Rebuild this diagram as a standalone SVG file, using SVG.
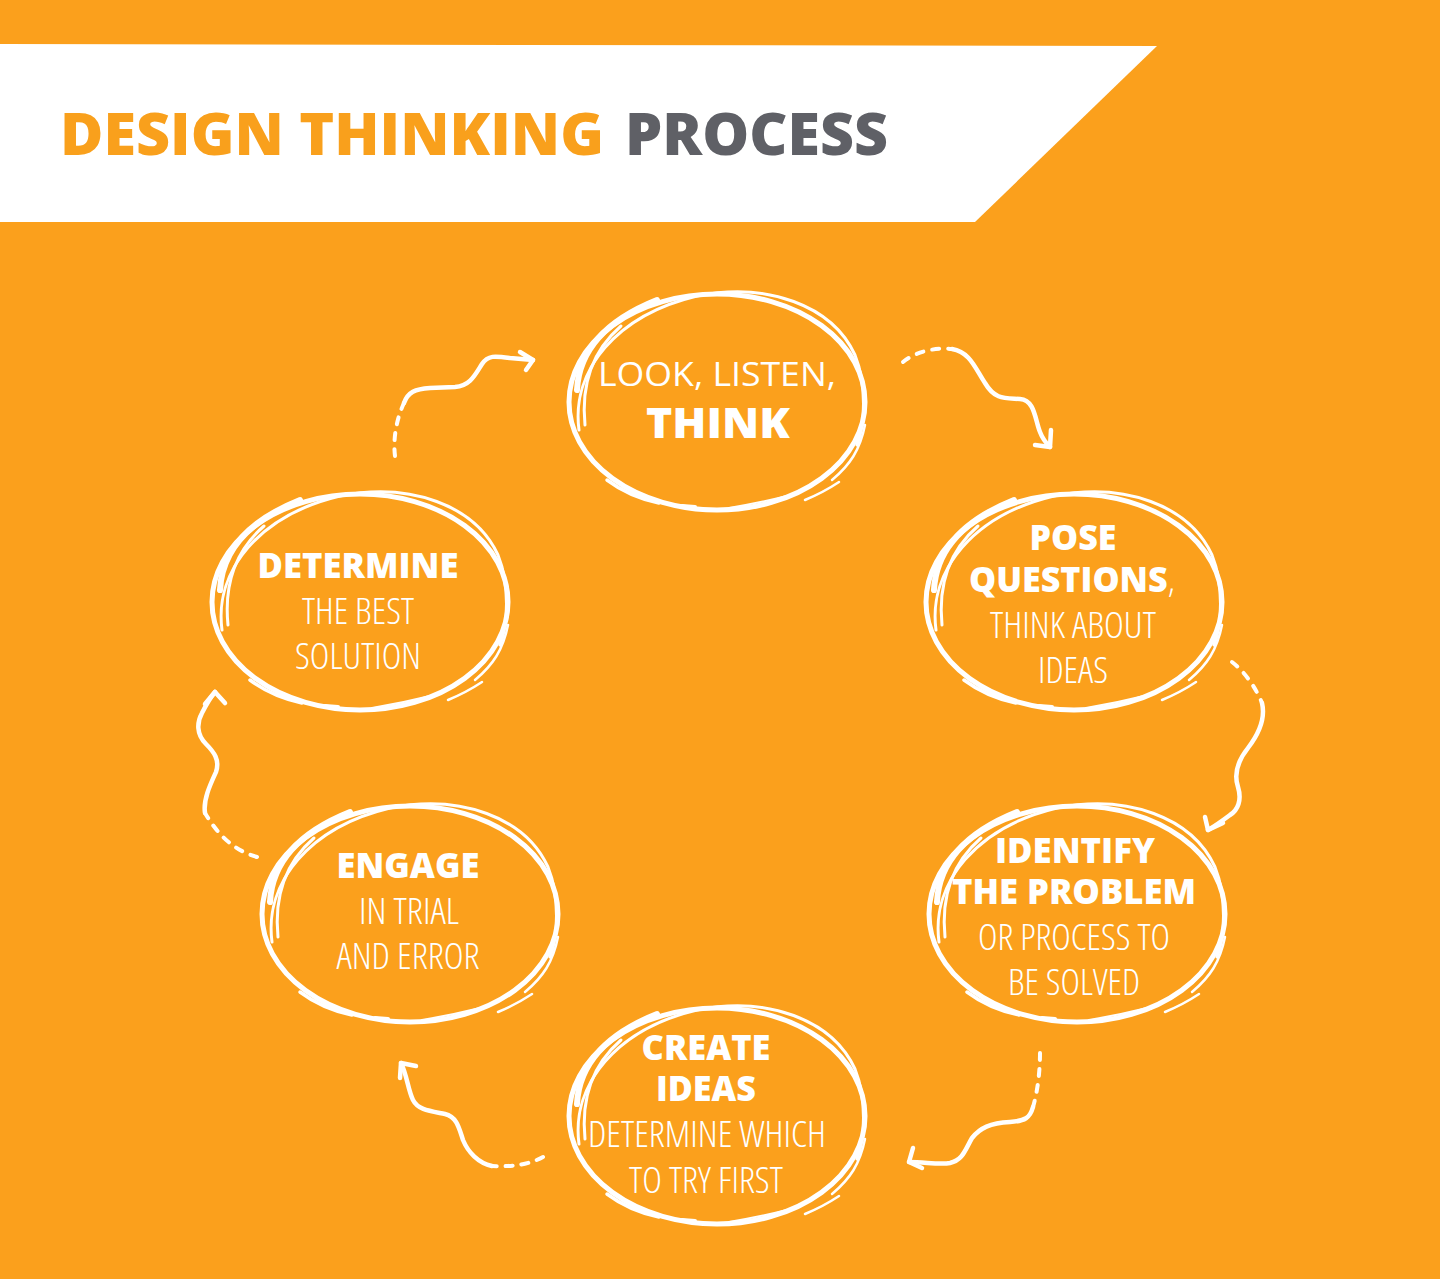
<svg xmlns="http://www.w3.org/2000/svg" xmlns:xlink="http://www.w3.org/1999/xlink" width="1440" height="1279" viewBox="0 0 1440 1279">
<style>
.bg{fill:#FBA01C}
.band{fill:#FFFFFF}
.t1{font-family:"Open Sans","DejaVu Sans",sans-serif;font-weight:800;font-size:59px;fill:#F9A01C}
.t2{font-family:"Open Sans","DejaVu Sans",sans-serif;font-weight:800;font-size:59px;fill:#5F6066}
.sk{fill:none;stroke:#FFFFFF;stroke-linecap:round;stroke-linejoin:round}
.b{font-family:"Open Sans","DejaVu Sans",sans-serif;font-weight:800;font-size:35px;fill:#FFFFFF;text-anchor:middle}
.bk{font-family:"Open Sans","DejaVu Sans",sans-serif;font-weight:800;font-size:42px;fill:#FFFFFF;text-anchor:middle}
.m{font-family:"Open Sans","DejaVu Sans",sans-serif;font-weight:500;font-size:32px;fill:#FFFFFF;text-anchor:middle}
.l{font-family:"Open Sans","DejaVu Sans",sans-serif;font-weight:300;font-stretch:condensed;font-size:37px;fill:#FFFFFF;text-anchor:middle}
.c{fill:none;stroke:#FFFFFF;stroke-width:4.5;stroke-linecap:round;stroke-linejoin:round}
.d{fill:none;stroke:#FFFFFF;stroke-width:4;stroke-linecap:round;stroke-dasharray:7 9}
</style>
<defs>
<g id="sketch">
<ellipse class="sk" cx="0" cy="2" rx="148" ry="108" stroke-width="5"/>
<path class="sk" stroke-width="3" d="M-138,30 C-146,-30 -100,-85 -20,-104 C50,-118 115,-95 138,-45 C150,-15 148,25 140,45"/>
<path class="sk" stroke-width="6" d="M-140,-10 C-138,-50 -110,-80 -60,-100"/>
<path class="sk" stroke-width="3" d="M-132,25 C-136,-15 -126,-48 -96,-74"/>
<path class="sk" stroke-width="2.5" d="M148,25 C143,50 133,65 115,80"/>
<path class="sk" stroke-width="2.5" d="M122,82 C110,90 100,95 88,100"/>
<path class="sk" stroke-width="2" d="M70,96 C50,101 30,105 12,108"/>
<path class="sk" stroke-width="3.5" d="M-110,80 C-90,95 -72,100 -58,103"/>
<path class="sk" stroke-width="4" d="M-35,106 L-22,107"/>
</g>
</defs>
<rect class="bg" x="0" y="0" width="1440" height="1279"/>
<polygon class="band" points="0,44 1157,46 975,222 0,222"/>
<text class="t1" x="60" y="155" textLength="544" lengthAdjust="spacingAndGlyphs">DESIGN THINKING</text>
<text class="t2" x="625" y="155" textLength="263" lengthAdjust="spacingAndGlyphs">PROCESS</text>

<g id="connectors">
<path class="d" d="M395,456 C393,440 396,420 404,403"/>
<path class="c" d="M404,403 C408,392 415,389 430,388 L455,387 C470,386 475,375 482,364 C488,355 495,356 510,358 L533,360"/>
<path class="c" d="M520,352 L533,360 L526,370"/>

<path class="d" d="M903,362 C915,352 935,347 952,349"/>
<path class="c" d="M952,349 C970,352 975,368 985,383 C995,400 1005,398 1020,399 C1035,400 1035,420 1040,432 C1043,440 1047,444 1050,447"/>
<path class="c" d="M1035,445 L1050,447 L1051,430"/>

<path class="d" d="M1232,662 C1245,672 1256,688 1262,703"/>
<path class="c" d="M1262,703 C1266,720 1258,735 1248,748 C1236,763 1234,775 1238,787 C1242,800 1238,810 1230,815 C1222,821 1215,826 1208,830"/>
<path class="c" d="M1205,817 L1208,830 L1223,823"/>

<path class="d" d="M1040,1053 C1040,1070 1038,1090 1033,1107"/>
<path class="c" d="M1033,1107 C1030,1118 1025,1121 1010,1122 C990,1123 980,1128 972,1138 C965,1150 963,1160 950,1163 C940,1165 925,1162 909,1162"/>
<path class="c" d="M913,1148 L909,1162 L922,1168"/>

<path class="d" d="M543,1157 C530,1164 515,1167 492,1166"/>
<path class="c" d="M492,1166 C478,1163 468,1152 463,1140 C459,1128 457,1117 445,1114 C430,1111 418,1110 413,1100 C408,1090 407,1075 401,1063"/>
<path class="c" d="M400,1078 L401,1063 L416,1066"/>

<path class="d" d="M257,857 C240,852 222,842 205,813"/>
<path class="c" d="M205,813 C203,800 210,785 216,772 C220,760 214,752 206,744 C196,734 197,722 202,713 C206,705 210,698 215,692"/>
<path class="c" d="M205,704 L215,692 L225,703"/>
</g>

<g id="node-look">
<use xlink:href="#sketch" href="#sketch" transform="translate(717,400)"/>
<text class="m" x="717" y="386" textLength="238" lengthAdjust="spacingAndGlyphs">LOOK, LISTEN,</text>
<text class="bk" x="718" y="438" textLength="144" lengthAdjust="spacingAndGlyphs">THINK</text>
</g>

<g id="node-pose">
<use xlink:href="#sketch" href="#sketch" transform="translate(1074,600)"/>
<text class="b" x="1073" y="550" textLength="87" lengthAdjust="spacingAndGlyphs">POSE</text>
<text class="b" x="1072" y="592" textLength="206" lengthAdjust="spacingAndGlyphs">QUESTIONS<tspan font-weight="300">,</tspan></text>
<text class="l" x="1073" y="638" textLength="166" lengthAdjust="spacingAndGlyphs">THINK ABOUT</text>
<text class="l" x="1073" y="683" textLength="70" lengthAdjust="spacingAndGlyphs">IDEAS</text>
</g>

<g id="node-identify">
<use xlink:href="#sketch" href="#sketch" transform="translate(1077,912)"/>
<text class="b" x="1075" y="863" textLength="160" lengthAdjust="spacingAndGlyphs">IDENTIFY</text>
<text class="b" x="1074" y="904" textLength="244" lengthAdjust="spacingAndGlyphs">THE PROBLEM</text>
<text class="l" x="1074" y="950" textLength="192" lengthAdjust="spacingAndGlyphs">OR PROCESS TO</text>
<text class="l" x="1074" y="995" textLength="132" lengthAdjust="spacingAndGlyphs">BE SOLVED</text>
</g>

<g id="node-create">
<use xlink:href="#sketch" href="#sketch" transform="translate(717,1114)"/>
<text class="b" x="706" y="1060" textLength="129" lengthAdjust="spacingAndGlyphs">CREATE</text>
<text class="b" x="706" y="1101" textLength="100" lengthAdjust="spacingAndGlyphs">IDEAS</text>
<text class="l" x="707" y="1147" textLength="238" lengthAdjust="spacingAndGlyphs">DETERMINE WHICH</text>
<text class="l" x="706" y="1193" textLength="154" lengthAdjust="spacingAndGlyphs">TO TRY FIRST</text>
</g>

<g id="node-engage">
<use xlink:href="#sketch" href="#sketch" transform="translate(410,912)"/>
<text class="b" x="408" y="878" textLength="143" lengthAdjust="spacingAndGlyphs">ENGAGE</text>
<text class="l" x="409" y="924" textLength="100" lengthAdjust="spacingAndGlyphs">IN TRIAL</text>
<text class="l" x="408" y="969" textLength="143" lengthAdjust="spacingAndGlyphs">AND ERROR</text>
</g>

<g id="node-determine">
<use xlink:href="#sketch" href="#sketch" transform="translate(360,600)"/>
<text class="b" x="358" y="578" textLength="201" lengthAdjust="spacingAndGlyphs">DETERMINE</text>
<text class="l" x="358" y="624" textLength="112" lengthAdjust="spacingAndGlyphs">THE BEST</text>
<text class="l" x="358" y="669" textLength="126" lengthAdjust="spacingAndGlyphs">SOLUTION</text>
</g>
</svg>
